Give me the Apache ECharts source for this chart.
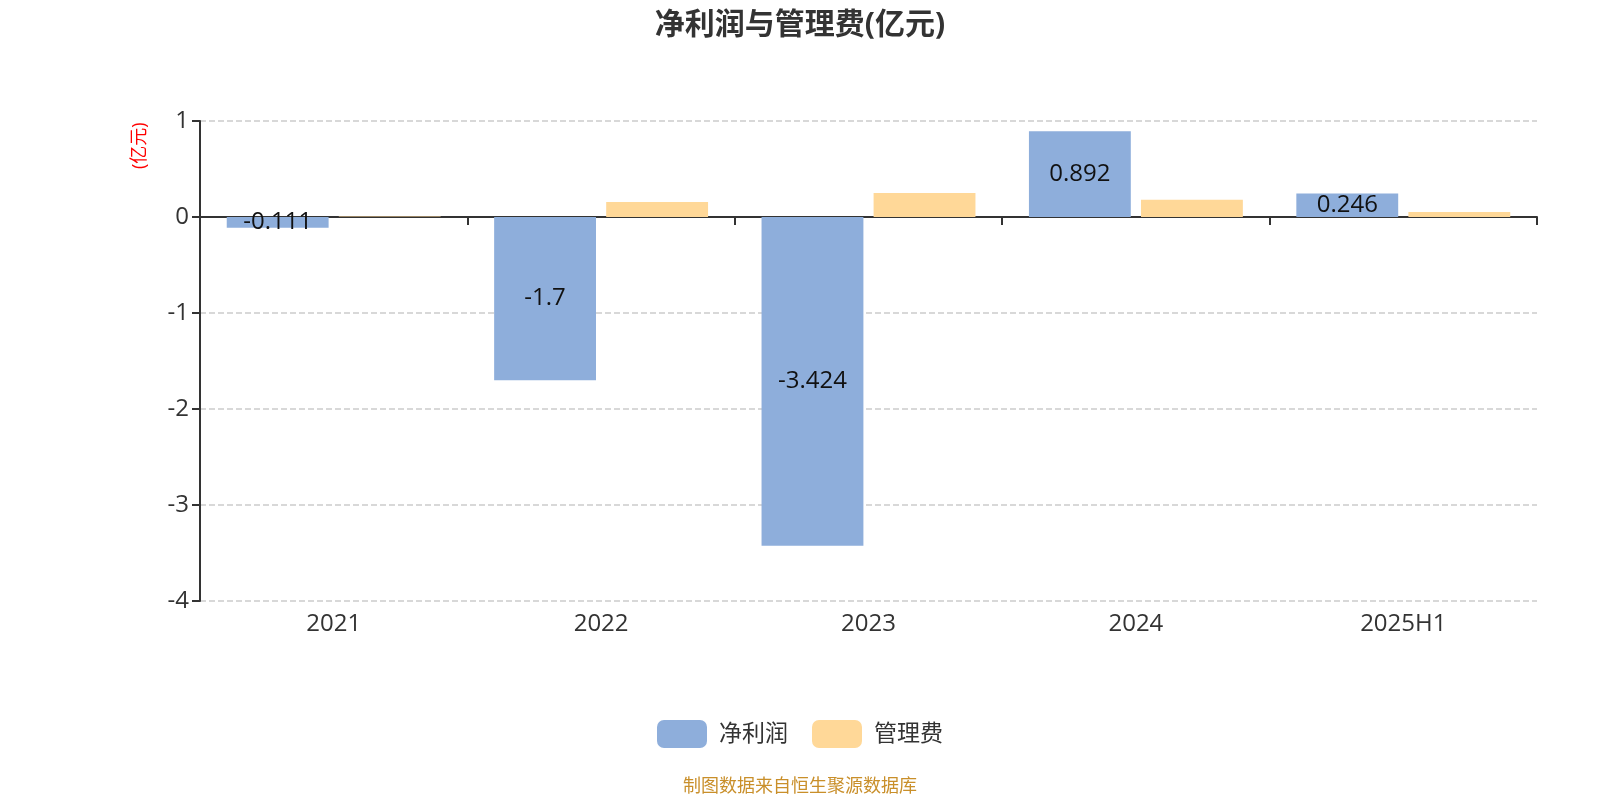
<!DOCTYPE html>
<html><head><meta charset="utf-8">
<script src="https://cdn.jsdelivr.net/npm/echarts@6/dist/echarts.min.js"></script>
<style>html,body{margin:0;padding:0;background:#fff}#c{width:1600px;height:800px}</style>
</head><body><div id="c"></div>
<script>
const categories = ['2021','2022','2023','2024','2025H1'];
const netProfit = [-0.111, -1.7, -3.424, 0.892, 0.246];
const adminFee = [0.006, 0.156, 0.25, 0.18, 0.052];
const yTicks = {min: -4, max: 1, interval: 1};
const chart = echarts.init(document.getElementById('c'));
const font = '"Open Sans","Noto Sans CJK SC",sans-serif';
chart.setOption({
  animation: false,
  textStyle: {fontFamily: font},
  title: {text: '净利润与管理费(亿元)', left: 'center', top: 5,
    textStyle: {fontSize: 30, fontWeight: 'bold', color: '#333', fontFamily: font}},
  grid: {left: 200, right: 63, top: 121, bottom: 199, containLabel: false},
  legend: {bottom: 47, left: 'center', itemWidth: 50, itemHeight: 28, itemGap: 24,
    textStyle: {fontSize: 23, color: '#333', padding: [0, 0, 0, 7]}, data: ['净利润','管理费']},
  graphic: [
    {type: 'text', left: 'center', top: 778, style: {text: '制图数据来自恒生聚源数据库', fill: '#c98f2a', fontSize: 18, fontFamily: font}},
    {type: 'text', x: 131, y: 169, rotation: Math.PI/2, style: {text: '(亿元)', fill: '#ff0000', fontSize: 18, fontFamily: font}}
  ],
  xAxis: [
    {type: 'category', data: categories, position: 'bottom',
     axisLine: {onZero: true, lineStyle: {color: '#333', width: 2}},
     axisTick: {show: true, length: 8, lineStyle: {color: '#333', width: 2}},
     axisLabel: {show: false}},
    {type: 'category', data: categories, position: 'bottom',
     axisLine: {show: false}, axisTick: {show: false},
     axisLabel: {fontSize: 24, color: '#333', margin: 11}}
  ],
  yAxis: {type: 'value', min: yTicks.min, max: yTicks.max, interval: yTicks.interval,
    axisLine: {show: true, lineStyle: {color: '#333', width: 2}},
    axisTick: {show: true, length: 8, lineStyle: {color: '#333', width: 2}},
    axisLabel: {fontSize: 24, color: '#333', margin: 11},
    splitLine: {lineStyle: {type: 'dashed', color: '#ccc', width: 1.5}}},
  series: [
    {name: '净利润', type: 'bar', data: netProfit, barGap: '10%', barCategoryGap: '20%',
     itemStyle: {color: '#8eaedb'},
     label: {show: true, position: 'inside', fontSize: 24, color: '#111'}},
    {name: '管理费', type: 'bar', data: adminFee,
     itemStyle: {color: '#ffd898'}}
  ]
});
</script></body></html>
